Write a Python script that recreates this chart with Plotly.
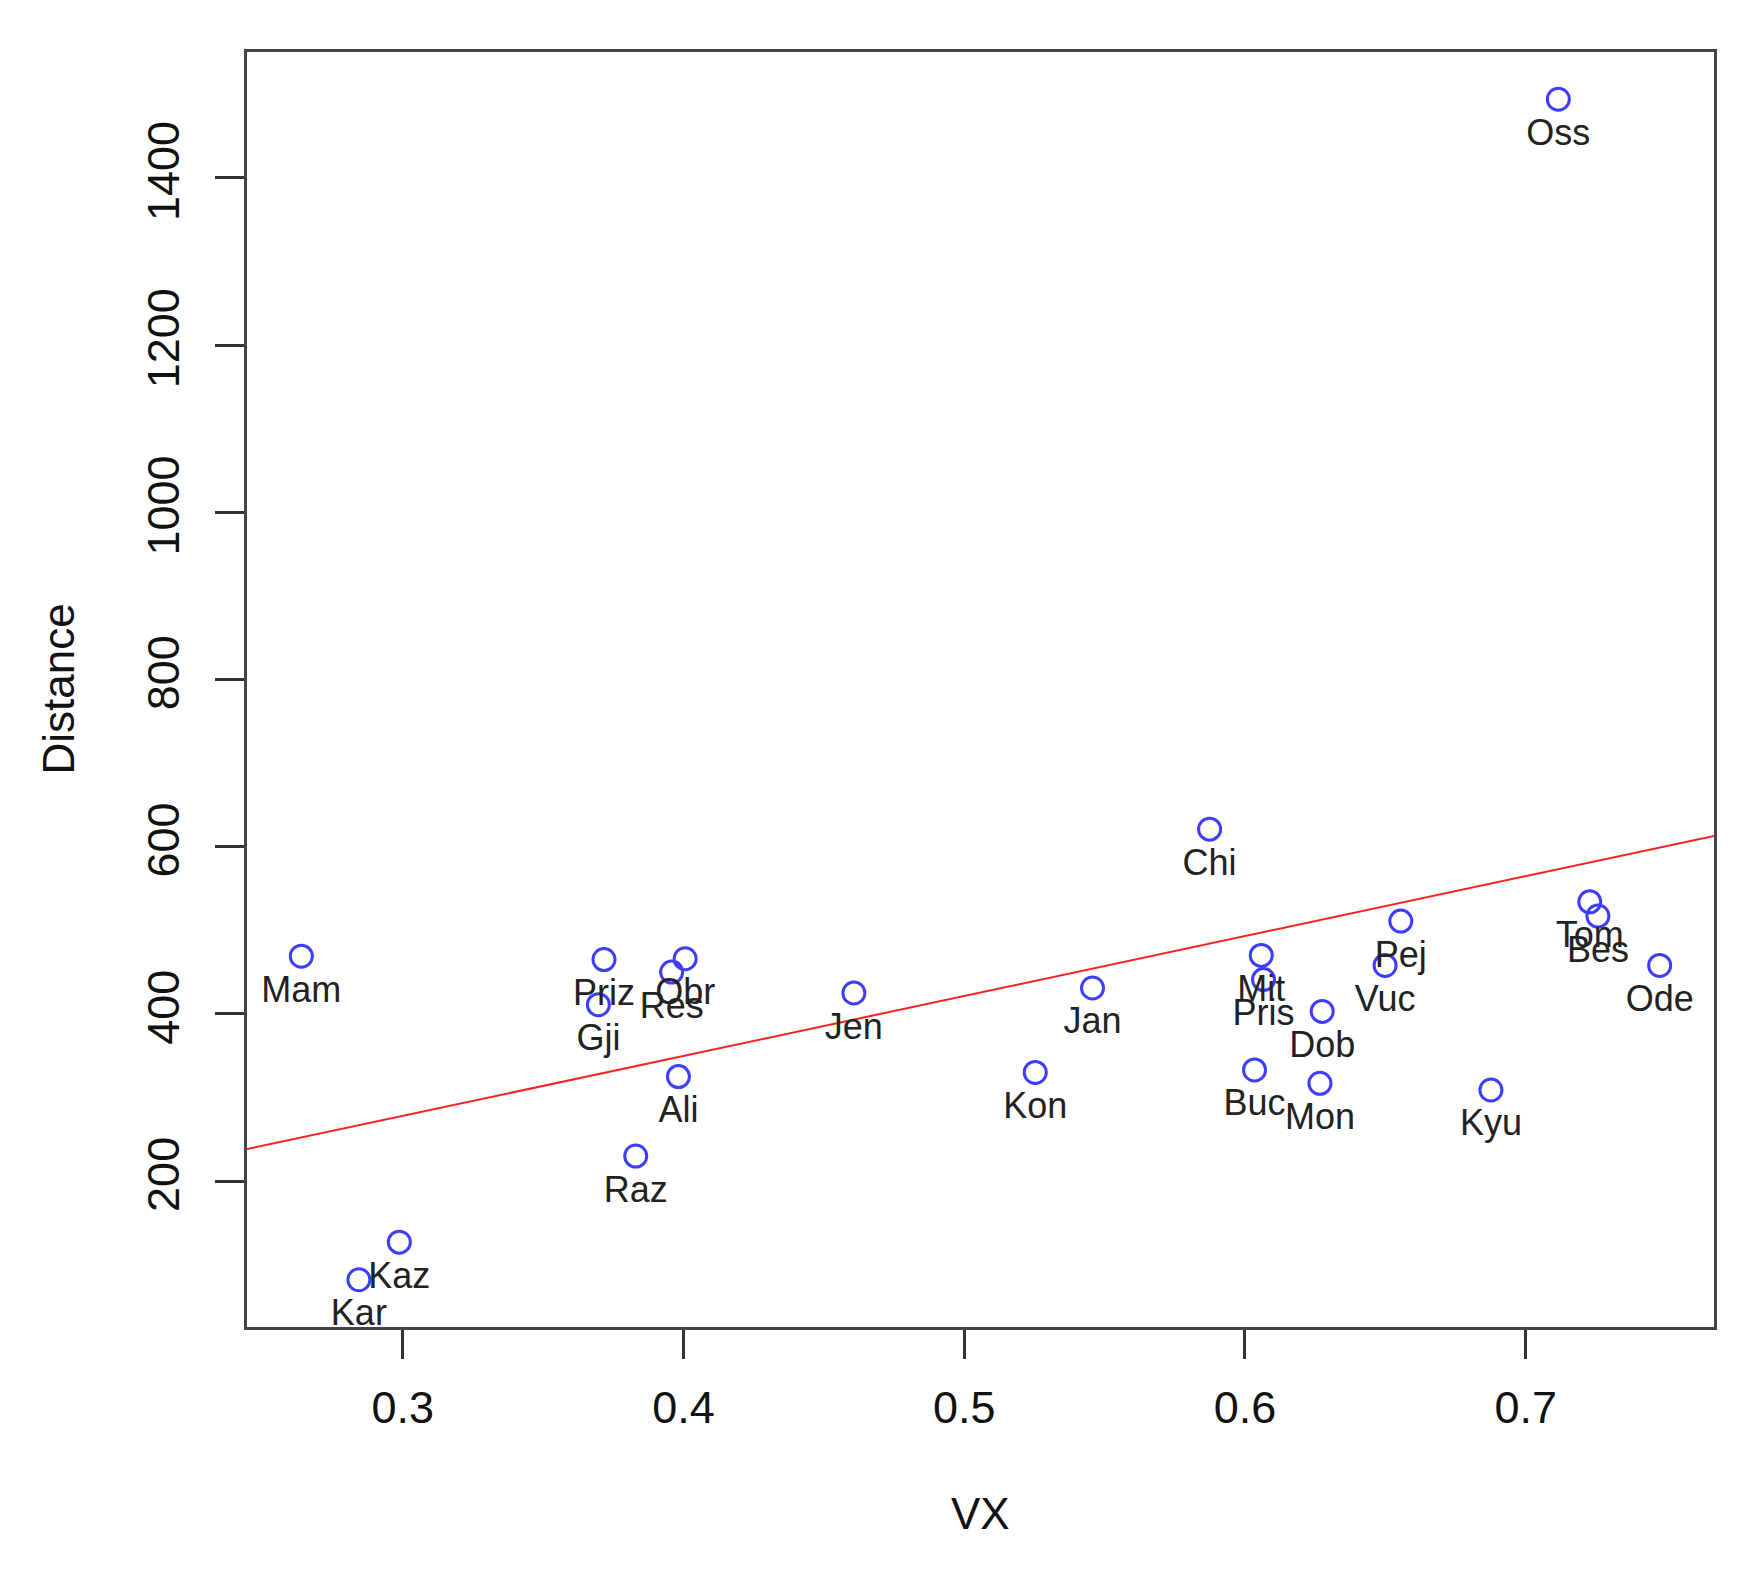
import numpy as np
import plotly.graph_objects as go

# Data
names = ["Oss", "Chi", "Mam", "Priz", "Gji", "Obr", "Res", "Ali", "Raz", "Kaz",
         "Kar", "Jen", "Kon", "Jan", "Mit", "Pris", "Buc", "Dob", "Mon", "Pej",
         "Vuc", "Kyu", "Tom", "Bes", "Ode"]
vx = [0.7116, 0.5874, 0.2639, 0.3717, 0.3697, 0.4006, 0.3958, 0.3982, 0.3830, 0.2988,
      0.2844, 0.4607, 0.5253, 0.5457, 0.6058, 0.6066, 0.6034, 0.6275, 0.6267, 0.6555,
      0.6499, 0.6876, 0.7228, 0.7257, 0.7477]
distance = [1494, 621, 469, 465, 411, 466, 450, 325, 230, 127,
            82, 425, 330, 431, 470, 441, 333, 403, 317, 511,
            458, 309, 534, 517, 458]

x_ticks = [0.3, 0.4, 0.5, 0.6, 0.7]
y_ticks = [200, 400, 600, 800, 1000, 1200, 1400]


def r_range(v):
    # R pads the data range by 4% on each side
    lo, hi = min(v), max(v)
    pad = 0.04 * (hi - lo)
    return [lo - pad, hi + pad]


xr = r_range(vx)
yr = r_range(distance)

# least squares line, like abline(lm(Distance ~ VX))
slope, intercept = np.polyfit(vx, distance, 1)
line_x = np.array(xr)
line_y = intercept + slope * line_x

fig = go.Figure()

fig.add_trace(go.Scatter(
    x=line_x, y=line_y, mode="lines",
    line=dict(color="#ff2020", width=2),
    hoverinfo="skip", showlegend=False,
))

fig.add_trace(go.Scatter(
    x=vx, y=distance, mode="markers",
    marker=dict(symbol="circle-open", size=22, color="#3d3dff",
                line=dict(width=3, color="#3d3dff")),
    showlegend=False,
))

# labels under the points (invisible, larger markers push the text down a bit)
fig.add_trace(go.Scatter(
    x=vx, y=distance, mode="markers+text",
    text=names, textposition="bottom center",
    textfont=dict(family="Liberation Sans", size=36, color="#222222"),
    marker=dict(size=28, opacity=0),
    hoverinfo="skip", showlegend=False,
))

axis_common = dict(
    showline=True, mirror=True, linecolor="#444444", linewidth=3,
    showgrid=False, zeroline=False,
    ticks="outside", ticklen=29, tickwidth=3, tickcolor="#333333",
    tickfont=dict(family="Liberation Sans", size=45, color="#111111"),
)

fig.update_xaxes(range=xr, tickvals=x_ticks, ticklabelstandoff=10, **axis_common)
fig.update_yaxes(range=yr, tickvals=y_ticks, tickangle=-90, ticklabelstandoff=18,
                 **axis_common)

fig.update_layout(
    width=1763, height=1571,
    margin=dict(l=239, r=57, t=44, b=252, autoexpand=False),
    paper_bgcolor="white", plot_bgcolor="white",
    annotations=[
        dict(text="VX", x=0.5, y=-0.1459, xref="paper", yref="paper",
             xanchor="center", yanchor="middle", showarrow=False,
             font=dict(family="Liberation Sans", size=44, color="#111111")),
        dict(text="Distance", x=-0.1288, y=0.5, xref="paper", yref="paper",
             xanchor="center", yanchor="middle", showarrow=False, textangle=-90,
             font=dict(family="Liberation Sans", size=44, color="#111111")),
    ],
)

fig.write_html("out.html")
